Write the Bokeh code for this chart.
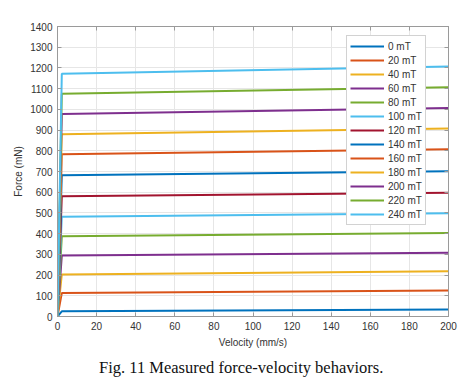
from bokeh.plotting import figure
from bokeh.models import Range1d, LinearAxis, Legend, LegendItem, FixedTicker, Div
from bokeh.layouts import column
from bokeh.embed import file_html
from bokeh.resources import INLINE

# ---- data ----
fields_mT = [0, 20, 40, 60, 80, 100, 120, 140, 160, 180, 200, 220, 240]
velocity = [0, 2.2, 200]                      # mm/s: origin, knee, end
start_force = [25, 113, 203, 294, 387, 482, 580, 682, 783, 880, 978, 1075, 1172]   # mN at knee
end_force = [34, 125, 218, 308, 403, 498, 597, 701, 808, 907, 1006, 1107, 1207]    # mN at 200 mm/s
x_ticks = list(range(0, 201, 20))
y_ticks = list(range(0, 1401, 100))
colors = ["#0072BD", "#D95319", "#EDB120", "#7E2F8E", "#77AC30", "#4DBEEE", "#A2142F"]
caption_text = "Fig. 11 Measured force-velocity behaviors."

FONT = "Liberation Sans"
TXT = "#333333"

p = figure(width=474, height=352, output_backend="svg", toolbar_location=None,
           x_range=Range1d(0, 200), y_range=Range1d(0, 1400),
           min_border_left=57, min_border_right=26, min_border_top=26, min_border_bottom=36)
p.background_fill_color = "white"
p.border_fill_color = "white"
p.outline_line_color = "#9a9a9a"

items = []
for i, f in enumerate(fields_mT):
    r = p.line(velocity, [0, start_force[i], end_force[i]],
               line_color=colors[i % len(colors)], line_width=2)
    items.append(LegendItem(label=f"{f} mT", renderers=[r]))

# axes
for ax in (p.xaxis[0], p.yaxis[0]):
    ax.major_tick_in = 4
    ax.major_tick_out = 0
    ax.minor_tick_in = 0
    ax.minor_tick_out = 0
    ax.axis_line_color = "#9a9a9a"
    ax.major_tick_line_color = "#9a9a9a"
    ax.major_label_text_font = FONT
    ax.major_label_text_font_size = "10px"
    ax.major_label_text_color = TXT
    ax.axis_label_text_font = FONT
    ax.axis_label_text_font_size = "10px"
    ax.axis_label_text_font_style = "normal"
    ax.axis_label_text_color = TXT

p.xaxis[0].ticker = FixedTicker(ticks=x_ticks)
p.yaxis[0].ticker = FixedTicker(ticks=y_ticks)
p.xaxis[0].axis_label = "Velocity (mm/s)"
p.yaxis[0].axis_label = "Force (mN)"
p.xaxis[0].major_label_standoff = 5
p.xaxis[0].axis_label_standoff = 4
p.yaxis[0].major_label_standoff = 5
p.yaxis[0].axis_label_standoff = 3

# top/right tick-only axes (box with inward ticks)
for loc, tick in (("right", y_ticks), ("above", x_ticks)):
    ax = LinearAxis(ticker=FixedTicker(ticks=tick), major_tick_in=4, major_tick_out=0,
                    minor_tick_in=0, minor_tick_out=0,
                    major_label_overrides={t: "" for t in tick},
                    axis_line_color="#9a9a9a", major_tick_line_color="#9a9a9a")
    p.add_layout(ax, loc)

p.xgrid.ticker = FixedTicker(ticks=x_ticks)
p.ygrid.ticker = FixedTicker(ticks=y_ticks)
p.xgrid.grid_line_color = "#e6e6e6"
p.ygrid.grid_line_color = "#e6e6e6"

legend = Legend(items=items, location=(289, 91))
legend.label_text_font = FONT
legend.label_text_font_size = "10px"
legend.label_text_color = TXT
legend.glyph_width = 34
legend.glyph_height = 14
legend.label_height = 14
legend.spacing = 0
legend.padding = 3
legend.margin = 0
legend.label_standoff = 4
legend.border_line_color = "#a6a6a6"
legend.background_fill_color = "white"
legend.background_fill_alpha = 1
p.add_layout(legend)

caption = Div(
    text=('<div style="position:absolute;left:99px;top:8px;white-space:nowrap;'
          'font-family:\'Liberation Serif\';font-size:16.5px;line-height:1;color:#111111;">'
          + caption_text + '</div>'),
    width=474, height=25, margin=0,
    styles={"background-color": "white", "position": "relative"})

layout = column(p, caption, spacing=0)
open("out.html", "w").write(file_html(layout, INLINE))
